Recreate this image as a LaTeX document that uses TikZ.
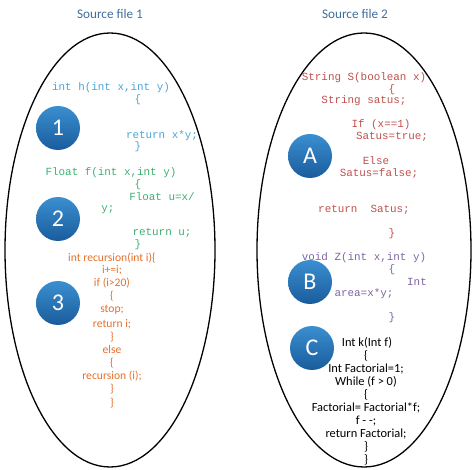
\documentclass[tikz,border=0pt]{standalone}
\usepackage{fontspec}
\setmainfont{Carlito}
\newfontfamily\codefont{Liberation Mono}
\definecolor{titleblue}{HTML}{3F6E9E}
\definecolor{cyancode}{HTML}{4AA6D6}
\definecolor{greencode}{HTML}{3DB072}
\definecolor{orangecode}{HTML}{E5702C}
\definecolor{redcode}{HTML}{C0504D}
\definecolor{purplecode}{HTML}{8064A2}
\definecolor{badgetop}{HTML}{3A8FD0}
\definecolor{badgebot}{HTML}{1A5C9C}
\begin{document}
\begin{tikzpicture}[x=1pt,y=-1pt,
  title/.style={font=\fontsize{13.2}{15}\selectfont, text=titleblue, inner sep=0},
  oval/.style={draw=black, line width=1.3pt},
  badge/.style={circle, minimum size=44pt, inner sep=0, top color=badgetop, bottom color=badgebot, draw=none, text=white, font=\fontsize{24}{24}\selectfont},
  mono/.style={font=\codefont\fontsize{10.9}{12}\selectfont, inner sep=0},
  cy/.style={mono, text=cyancode},
  gr/.style={mono, text=greencode},
  rd/.style={mono, text=redcode},
  pu/.style={mono, text=purplecode},
  og/.style={font=\fontsize{11.6}{13}\selectfont, inner sep=0, text=orangecode},
  bk/.style={font=\fontsize{12.4}{14}\selectfont, inner sep=0, text=black}]
\useasboundingbox (0,0) rectangle (474,470);
% titles
\node[title] (t1) at (110,14) {Source file 1};
\node[title] (t2) at (355,14) {Source file 2};
% ellipses
\draw[oval] (110,250) ellipse [x radius=105pt, y radius=217pt];
\draw[oval] (364,250) ellipse [x radius=107pt, y radius=217pt];
% badges
\node[badge] (b1) at (58,128) {1};
\node[badge] (b2) at (58,219) {2};
\node[badge] (b3) at (58,303) {3};
\node[badge] (bA) at (310,156) {A};
\node[badge] (bB) at (310,282) {B};
\node[badge] (bC) at (312,348) {C};
% source file 1 : cyan
\node[cy] (h1) at (111,88) {int h(int x,int y)};
\node[cy] (h2) at (138,100) {\{};
\node[cy] (h3) at (162,136) {return x*y;};
\node[cy] (h4) at (138,147) {\}};
% green
\node[gr] (f1) at (111,173) {Float f(int x,int y)};
\node[gr] (f2) at (138,185) {\{};
\node[gr] (f3) at (162,197) {Float u=x/};
\node[gr] (f4) at (108,210) {y;};
\node[gr] (f5) at (162,233) {return u;};
\node[gr] (f6) at (138,245) {\}};
% orange
\node[og] (r1) at (112,258) {int recursion(int i)\{};
\node[og] (r2) at (112,270) {i+=i;};
\node[og] (r3) at (112,283) {if (i>20)};
\node[og] (r4) at (112,296) {\{};
\node[og] (r5) at (112,310) {stop;};
\node[og] (r6) at (112,324) {return i;};
\node[og] (r7) at (112,337) {\}};
\node[og] (r8) at (112,350) {else};
\node[og] (r9) at (112,363) {\{};
\node[og] (r10) at (112,376) {recursion (i);};
\node[og] (r11) at (112,389) {\}};
\node[og] (r12) at (112,403) {\}};
% source file 2 : red
\node[rd] (s1) at (364,78) {String S(boolean x)};
\node[rd] (s2) at (392,90) {\{};
\node[rd] (s3) at (364,101) {String satus;};
\node[rd] (s4) at (381,125) {If (x==1)};
\node[rd] (s5) at (392,137) {Satus=true;};
\node[rd] (s6) at (376,161) {Else};
\node[rd] (s7) at (379,174) {Satus=false;};
\node[rd] (s8) at (364,210) {return\ \ Satus;};
\node[rd] (s9) at (392,234) {\}};
% purple
\node[pu] (z1) at (364,258) {void Z(int x,int y)};
\node[pu] (z2) at (392,270) {\{};
\node[pu] (z3) at (417,282) {Int};
\node[pu] (z4) at (364,294) {area=x*y;};
\node[pu] (z5) at (392,318) {\}};
% black
\node[bk] (k1) at (367,343) {Int k(Int f)};
\node[bk] (k2) at (366,356) {\{};
\node[bk] (k3) at (366,369) {Int Factorial=1;};
\node[bk] (k4) at (366,382) {While (f > 0)};
\node[bk] (k5) at (366,395) {\{};
\node[bk] (k6) at (366,408) {Factorial= Factorial*f;};
\node[bk] (k7) at (366,421) {f - -;};
\node[bk] (k8) at (366,434) {return Factorial;};
\node[bk] (k9) at (366,447) {\}};
\node[bk] (k10) at (366,460) {\}};
\end{tikzpicture}
\end{document}
